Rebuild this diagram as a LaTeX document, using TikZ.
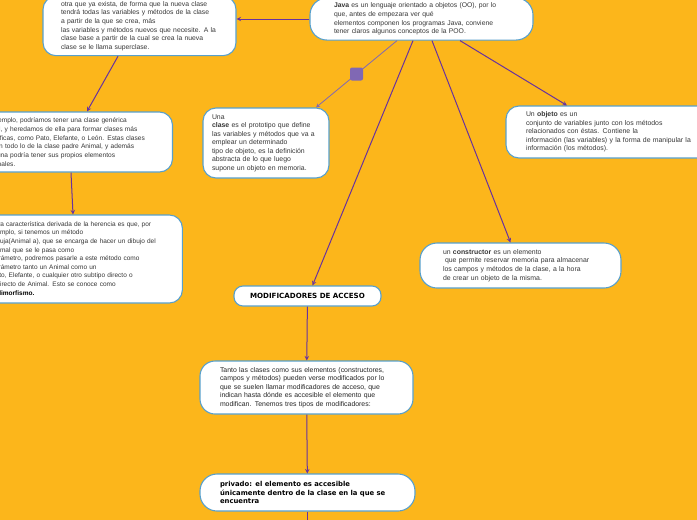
\documentclass[tikz,border=0pt]{standalone}
\usepackage{fontspec}
\setmainfont{Liberation Sans}
\newfontfamily\negrita{DejaVu Sans}
\usetikzlibrary{positioning}
\definecolor{fondo}{RGB}{252,182,27}
\definecolor{borde}{RGB}{88,160,204}
\definecolor{flecha}{RGB}{104,50,158}
\definecolor{flechaclara}{RGB}{128,104,180}
\definecolor{texto}{RGB}{55,55,55}

\begin{document}
\begin{tikzpicture}
[x=1pt,y=-1pt,>=stealth,%
  caja/.style={draw=borde,line width=1.1pt,fill=white,rounded corners=13pt,
    align=left,text=texto,font=\fontsize{6.8}{8.6}\selectfont,inner ysep=5pt},
  enlace/.style={->,draw=flecha,line width=1pt}]
\useasboundingbox[fill=fondo] (0,0) rectangle (697,520);
%% nodes
\node[caja,text width=157pt,inner xsep=18pt] (herencia) at (139.5,26)
  {otra que ya exista, de forma que la nueva clase\\ tendrá todas las variables y métodos de la clase\\ a partir de la que se crea, más\\ las variables y métodos nuevos que necesite. A la\\ clase base a partir de la cual se crea la nueva\\ clase se le llama superclase.};
\node[caja,text width=175pt,inner xsep=24pt,minimum height=42pt,rounded corners=17pt] (java) at (421.5,19)
  {\textbf{Java} es un lenguaje orientado a objetos (OO), por lo\\ que, antes de empezara ver qué\\ elementos componen los programas Java, conviene\\ tener claros algunos conceptos de la POO.};
\node[caja,text width=172pt,inner xsep=20pt,minimum height=60pt,
  font=\fontsize{6.6}{8.8}\selectfont] (ejemplo) at (66.5,142)
  {Por ejemplo, podríamos tener una clase genérica\\ Animal, y heredamos de ella para formar clases más\\ específicas, como Pato, Elefante, o León. Estas clases\\ tendrán todo lo de la clase padre Animal, y además\\ cada una podría tener sus propios elementos\\ adicionales.};
\node[caja,text width=178pt,inner xsep=13pt,minimum height=88pt,
  font=\fontsize{6.5}{8.6}\selectfont] (polimorfismo) at (80.4,259)
  {Otra característica derivada de la herencia es que, por\\ ejemplo, si tenemos un método\\ dibuja(Animal a), que se encarga de hacer un dibujo del\\ animal que se le pasa como\\ parámetro, podremos pasarle a este método como\\ parámetro tanto un Animal como un\\ Pato, Elefante, o cualquier otro subtipo directo o\\ indirecto de Animal. Esto se conoce como\\ \textcolor{black}{\textbf{polimorfismo.}}};
\node[caja,text width=108pt,inner xsep=9pt,minimum height=70pt,
  font=\fontsize{6.9}{8.5}\selectfont] (clase) at (266,143)
  {Una\\ \textbf{clase} es el prototipo que define\\ las variables y métodos que va a\\ emplear un determinado\\ tipo de objeto, es la definición\\ abstracta de lo que luego\\ supone un objeto en memoria.};
\node[caja,text width=170pt,inner xsep=20pt,minimum height=52pt,
  font=\fontsize{6.9}{8.5}\selectfont] (objeto) at (611,132)
  {Un \textbf{objeto} es un\\ conjunto de variables junto con los métodos\\ relacionados con éstas. Contiene la\\ información (las variables) y la forma de manipular la\\ información (los métodos).};
\node[caja,text width=155pt,inner xsep=23pt,minimum height=45pt,rounded corners=17pt,
  font=\fontsize{6.9}{8.7}\selectfont] (constructor) at (520.5,265.5)
  {un \textbf{constructor} es un elemento\\ \hspace*{2pt}que permite reservar memoria para almacenar\\ los campos y métodos de la clase, a la hora\\ de crear un objeto de la misma.};
\node[caja,minimum width=147pt,minimum height=20pt,rounded corners=9pt,align=center,
  text=black,font=\negrita\bfseries\fontsize{7.1}{8}\selectfont] (modificadores) at (307.5,296)
  {MODIFICADORES DE ACCESO};
\node[caja,text width=173pt,inner xsep=20pt,minimum height=53pt,rounded corners=15pt,
  text=black!85,font=\fontsize{6.9}{8.5}\selectfont] (tanto) at (306.5,387.5)
  {Tanto las clases como sus elementos (constructores,\\ campos y métodos) pueden verse modificados por lo\\ que se suelen llamar modificadores de acceso, que\\ indican hasta dónde es accesible el elemento que\\ modifican. Tenemos tres tipos de modificadores:};
\node[caja,text width=175pt,inner xsep=20pt,minimum height=37pt,rounded corners=17pt,
  text=black,font=\negrita\bfseries\fontsize{6.85}{8.5}\selectfont] (privado) at (307.5,492.5)
  {privado: el elemento es accesible\\ únicamente dentro de la clase en la que se\\ encuentra};
\coordinate (fin) at (307.5,525);
%% connectors
\draw[enlace] (java.west) -- (java.west -| herencia.east);
\draw[enlace] ([xshift=-21.5pt]herencia.south) -- ([xshift=20.5pt]ejemplo.north);
\draw[enlace] ([xshift=4.5pt]ejemplo.south) -- ([xshift=-7.4pt]polimorfismo.north);
\draw[enlace,draw=flechaclara,line width=0.8pt] ([xshift=-24.5pt]java.south) --
  node[fill=flechaclara,rounded corners=2pt,minimum size=13pt,inner sep=0pt] (cuadro) {}
  ([xshift=50pt]clase.north);
\draw[enlace] ([xshift=-8.5pt]java.south) -- ([xshift=5pt]modificadores.north);
\draw[enlace] ([xshift=10.5pt]java.south) -- ([xshift=-10pt]constructor.north);
\draw[enlace] ([xshift=38.5pt]java.south) -- ([xshift=-44pt]objeto.north);
\draw[enlace] (modificadores) -- (tanto);
\draw[enlace] (tanto) -- (privado);
\draw[draw=flecha,line width=1pt] (privado) -- (fin);
\end{tikzpicture}
\end{document}
